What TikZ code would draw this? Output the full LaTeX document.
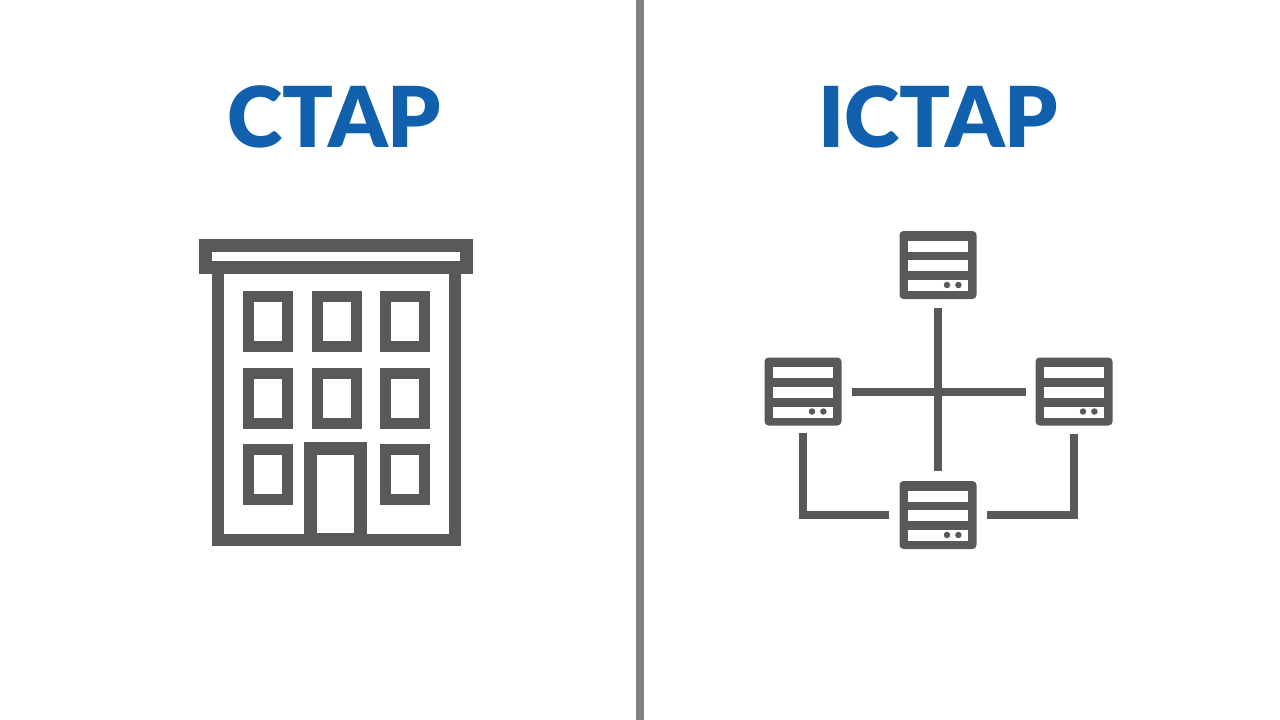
\documentclass[tikz,border=0pt]{standalone}
\usepackage{fontspec}
\setmainfont{Lato}[BoldFont={Lato Black}]
\usepackage{xcolor}
\usetikzlibrary{positioning}
\definecolor{iconGray}{HTML}{595959}
\definecolor{ruleGray}{HTML}{808080}
\definecolor{titleBlue}{HTML}{1060AE}
\tikzstyle{title}=[text=titleBlue, font=\fontsize{84}{84}\selectfont\bfseries, inner sep=0pt]
\tikzstyle{part}=[rectangle, draw=iconGray, fill=white, inner sep=0pt]
\tikzstyle{window}=[part, line width=11pt, minimum width=39pt, minimum height=50pt]
\tikzstyle{server}=[rectangle, fill=iconGray, rounded corners=4pt, inner sep=0pt, minimum width=77pt, minimum height=68pt]
\tikzstyle{slot}=[rectangle, fill=white, inner sep=0pt, minimum width=60pt, minimum height=11pt]
\tikzstyle{led}=[circle, fill=iconGray, inner sep=0pt, minimum size=6.5pt]
\tikzstyle{link}=[draw=iconGray, line width=8pt]

\begin{document}
\begin{tikzpicture}[x=1pt, y=-1pt]
            \useasboundingbox (0,0) rectangle (1280,720);
            \node (divider)[fill=ruleGray, inner sep=0pt, minimum width=8pt, minimum height=720pt] at (640,360) {};

            \node (ctap)[title] at (334.5,117) {CTAP};
            \node (ictap)[title] at (938.5,117) {ICTAP};

            % building
            \node (body)[part, line width=12pt, minimum width=237pt, minimum height=272pt] at (336.5,404) {};
            \node (roof)[part, line width=13pt, minimum width=261pt, minimum height=22pt] at (336,256.5) {};
            \foreach \row/\y in {1/321.5, 2/398.5} {
                \foreach \col/\x in {1/268, 2/337, 3/405} {
                    \node (win\row\col)[window] at (\x,\y) {};
                }
            }
            \node (win31)[window] at (268,474.5) {};
            \node (win33)[window] at (405,474.5) {};
            \node (door)[part, line width=13pt, minimum width=50pt, minimum height=91pt] at (335.5,493.75) {};

            % servers
            \foreach \name/\x/\y in {top/938/265, left/803/391.5, right/1074/391.5, bottom/938/515} {
                \node (\name)[server] at (\x,\y) {};
                \node (\name a)[slot] at (\x,\y-19) {};
                \node (\name b)[slot, below=8.5pt of \name a] {};
                \node (\name c)[slot, below=8.5pt of \name b] {};
                \node (\name led)[led] at (\x+9,\y+20) {};
                \node (\name ledb)[led, right=4.5pt of \name led] {};
            }

            \draw[link, shorten <=9pt, shorten >=10pt] (top) -- (bottom);
            \draw[link, yshift=-1.5pt, shorten <=10pt, shorten >=9pt] (left) -- (right);
            \draw[link, shorten <=7pt, shorten >=10pt] (left) |- (bottom);
            \draw[link, shorten <=8pt, shorten >=10pt] (right) |- (bottom);
\end{tikzpicture}
\end{document}
